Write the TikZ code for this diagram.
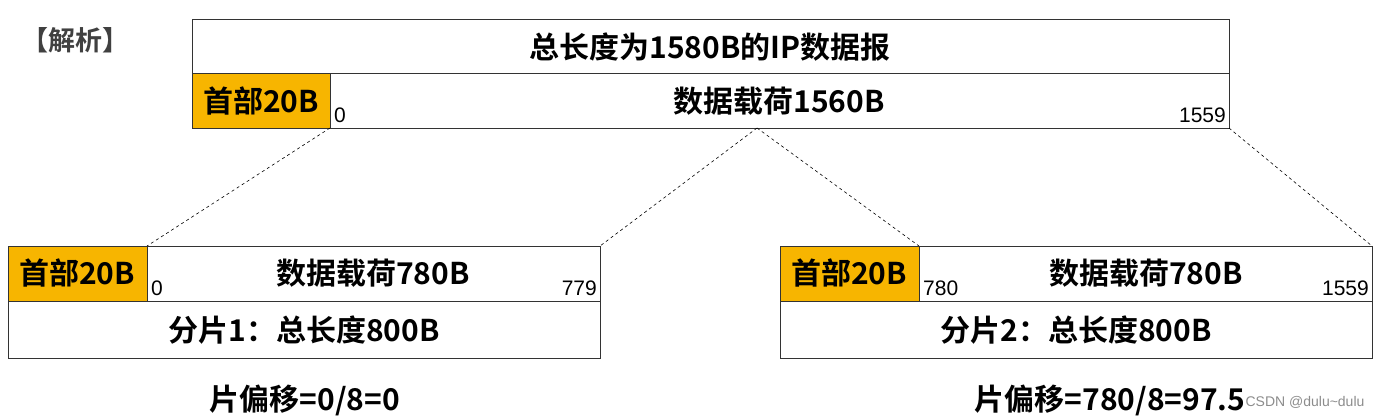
\documentclass[tikz,border=0pt]{standalone}
\usepackage{fontspec}
\setmainfont{Liberation Sans}
\newfontfamily\cjk{Noto Sans CJK SC}[BoldFont={Noto Sans CJK SC Bold}]
\begin{document}
\begin{tikzpicture}[x=1pt,y=-1pt,
  cell/.style={draw=black!80,line width=0.8pt,fill=white,inner sep=0},
  hdr/.style={draw=black!80,line width=0.8pt,inner sep=0},
  big/.style={font=\cjk\bfseries\fontsize{30}{34}\selectfont},
  num/.style={font=\fontsize{21}{24}\selectfont,inner sep=1pt},
  cut/.style={dashed,line width=0.6pt}]
\definecolor{hdrc}{HTML}{F7B500}
\useasboundingbox (0,0) rectangle (1378,418);
\node[font=\cjk\bfseries\fontsize{27}{30}\selectfont,text=black!75] (jx) at (75,40) {【解析】};
% top
\draw[cell] (192,19) rectangle (1229,73);
\node[big] (t1) at (710,47) {总长度为1580B的IP数据报};
\draw[cell] (192,73) rectangle (1229,128);
\draw[hdr,fill=hdrc] (192,73) rectangle (330,128);
\node[big] (h0) at (261,101) {首部20B};
\node[big] (p0) at (779,101) {数据载荷1560B};
\node[num,anchor=south west] (a0) at (333,124) {0};
\node[num,anchor=south east] (b0) at (1227,124) {1559};
\coordinate (t0l) at (330,128); \coordinate (tm) at (757,128); \coordinate (t0r) at (1229,128);
% left
\draw[cell] (8,246) rectangle (600,301);
\draw[cell] (8,301) rectangle (600,358);
\draw[hdr,fill=hdrc] (8,246) rectangle (147,301);
\node[big] (h1) at (77,273) {首部20B};
\node[big] (p1) at (373,273) {数据载荷780B};
\node[num,anchor=south west] (a1) at (150,297) {0};
\node[num,anchor=south east] (b1) at (598,297) {779};
\node[big] (f1) at (304,330) {分片1：总长度800B};
\coordinate (l1) at (147,246); \coordinate (r1) at (600,246);
% right
\draw[cell] (780,246) rectangle (1372,301);
\draw[cell] (780,301) rectangle (1372,358);
\draw[hdr,fill=hdrc] (780,246) rectangle (919,301);
\node[big] (h2) at (849,273) {首部20B};
\node[big] (p2) at (1146,273) {数据载荷780B};
\node[num,anchor=south west] (a2) at (922,297) {780};
\node[num,anchor=south east] (b2) at (1370,297) {1559};
\node[big] (f2) at (1076,330) {分片2：总长度800B};
\coordinate (l2) at (919,246); \coordinate (r2) at (1372,246);
\draw[cut] (t0l) -- (l1); \draw[cut] (tm) -- (r1); \draw[cut] (tm) -- (l2); \draw[cut] (t0r) -- (r2);
\node[big] (o1) at (305,400) {片偏移=0/8=0};
\node[big] (o2) at (1110,400) {片偏移=780/8=97.5};
\node[font=\fontsize{14}{16}\selectfont,text=black!45] (wm) at (1305,402) {CSDN @dulu\textasciitilde dulu};
\end{tikzpicture}
\end{document}
